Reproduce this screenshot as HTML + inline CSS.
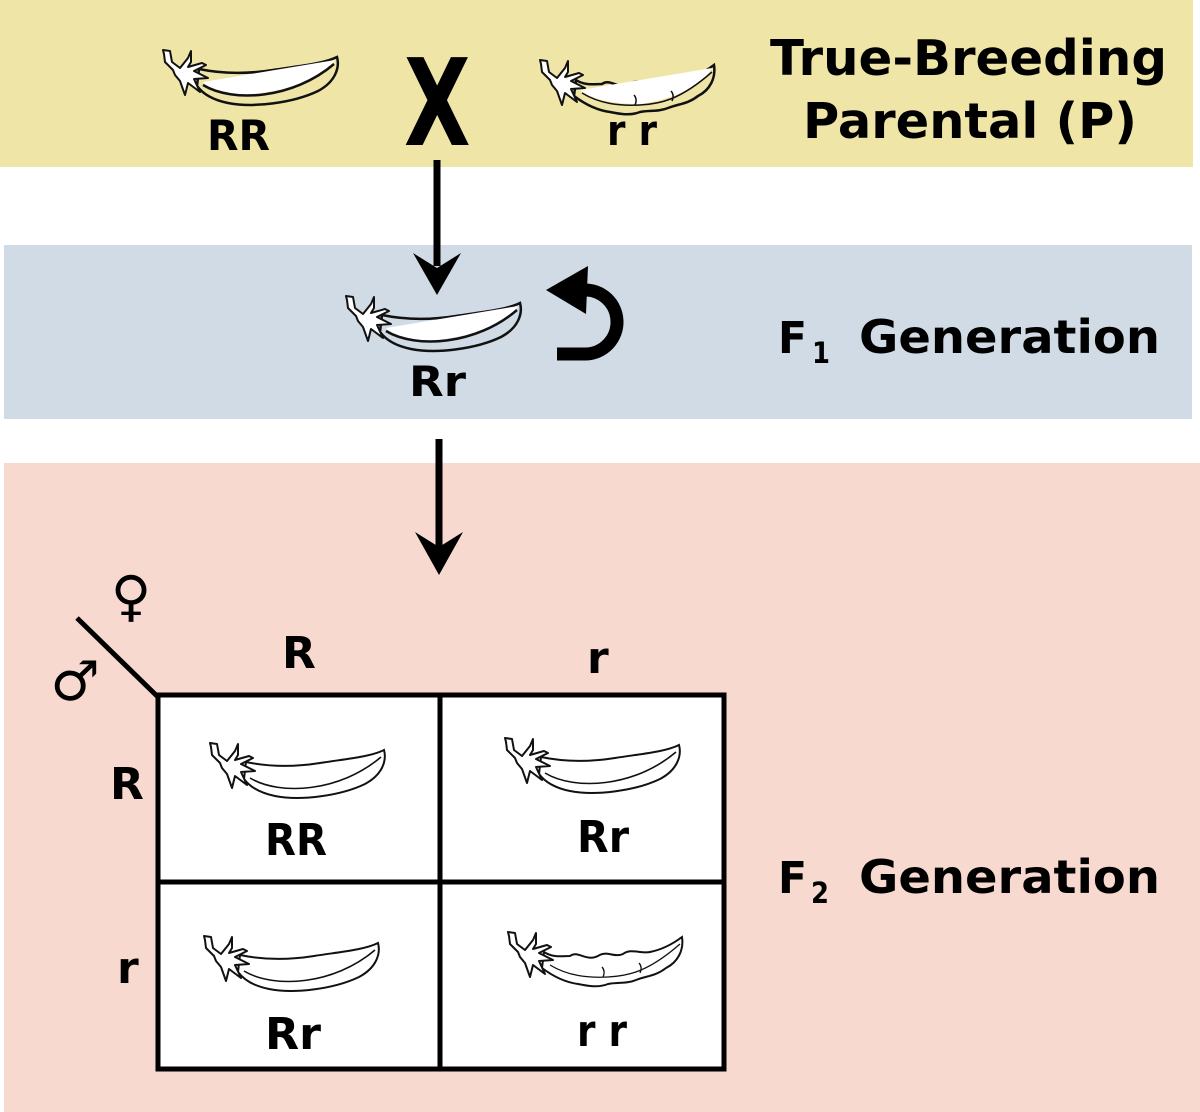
<!DOCTYPE html>
<html>
<head>
<meta charset="utf-8">
<style>
html,body{margin:0;padding:0;background:#fff;}
svg{display:block;}
text{font-family:"DejaVu Sans","Liberation Sans",sans-serif;font-weight:bold;fill:#000;}
.sym{font-weight:normal;}
</style>
</head>
<body>
<svg width="1200" height="1112" viewBox="0 0 1200 1112" xmlns="http://www.w3.org/2000/svg">
<defs>
  <g id="calyx">
    <polygon points="0,0 7,1 9,12 17,18 25,8 28,1 28,12 25,17 39,13 43,15 31,21 45,28 31,29 37,42 25,33 22,45 17,31 12,25 10,20 2,12 1,4" fill="#fff" stroke="#111" stroke-width="2" stroke-linejoin="round"/>
  </g>
  <path id="podBody" d="M36 19 C60 24,85 24,110 20 C135 16,160 14,174 7 C177 18,172 32,155 41 C130 53,90 58,65 53 C50 50,40 44,34 36 Z"/>
  <path id="podSeam" d="M40 35 C70 53,130 49,171 14" fill="none"/>
  <path id="podHi" d="M40 32 L172 10 C160 30,120 44,70 45 C55 44,45 38,40 32 Z"/>
  <path id="wrBody" d="M36 20 C45 26,55 24,62 24 C70 18,78 30,90 24 C98 18,106 26,115 22 C123 16,133 22,142 20 C152 18,162 14,174 5 C176 18,170 30,158 36 C148 44,138 44,128 48 C118 52,110 50,100 52 C90 56,80 54,70 52 C55 50,42 42,34 36 Z"/>
  <path id="wrSeam" d="M42 33 C60 44,80 46,100 45 C120 44,140 40,172 12 M95 45 C97 41,96 37,94 35 M132 41 C134 37,133 33,131 31" fill="none"/>
  <path id="wrHi" d="M40 30 L172 8 C160 28,130 40,100 44 C75 44,52 40,40 30 Z"/>
</defs>

<!-- bands -->
<rect x="0" y="0" width="1193" height="167" fill="#efe5a7"/>
<rect x="4" y="245" width="1188" height="174" fill="#d0dbe5"/>
<rect x="4" y="463" width="1196" height="649" fill="#f8d9cf"/>

<!-- P generation -->
<g transform="translate(163,50)">
  <use href="#podBody" fill="#efe5a7" stroke="#111" stroke-width="2.5"/>
  <use href="#podHi" fill="#fff"/>
  <use href="#podSeam" stroke="#111" stroke-width="2.5"/>
  <use href="#calyx"/>
</g>
<text x="207" y="150" font-size="42" textLength="63" lengthAdjust="spacingAndGlyphs">RR</text>
<text transform="translate(404,145) scale(0.95,1.34)" x="0" y="0" font-size="90" textLength="70" lengthAdjust="spacingAndGlyphs">X</text>
<g transform="translate(540,60)">
  <use href="#wrBody" fill="#efe5a7" stroke="#111" stroke-width="2.5"/>
  <use href="#wrHi" fill="#fff"/>
  <use href="#wrSeam" stroke="#111" stroke-width="1.5"/>
  <use href="#calyx"/>
</g>
<text x="607" y="145" font-size="42" textLength="50" lengthAdjust="spacingAndGlyphs">r r</text>
<text x="770" y="75" font-size="49" textLength="397" lengthAdjust="spacingAndGlyphs">True-Breeding</text>
<text x="803" y="138" font-size="49" textLength="334" lengthAdjust="spacingAndGlyphs">Parental (P)</text>

<!-- arrow 1 -->
<line x1="437" y1="160" x2="437" y2="266" stroke="#000" stroke-width="7"/>
<polygon points="437,295 461,253 437,268 413,253" fill="#000"/>

<!-- F1 -->
<g transform="translate(346,296)">
  <use href="#podBody" fill="#d0dbe5" stroke="#111" stroke-width="2.5"/>
  <use href="#podHi" fill="#fff"/>
  <use href="#podSeam" stroke="#111" stroke-width="2.5"/>
  <use href="#calyx"/>
</g>
<text x="409" y="396" font-size="42" textLength="57" lengthAdjust="spacingAndGlyphs">Rr</text>
<path d="M584 290 A32 32 0 0 1 586 354 L557 354" fill="none" stroke="#000" stroke-width="13"/>
<polygon points="546,290 588,266 586,314" fill="#000"/>
<text x="778" y="353" font-size="44" textLength="29" lengthAdjust="spacingAndGlyphs">F</text>
<text x="812" y="363" font-size="29" textLength="18" lengthAdjust="spacingAndGlyphs">1</text>
<text x="859" y="353" font-size="46" textLength="301" lengthAdjust="spacingAndGlyphs">Generation</text>

<!-- arrow 2 -->
<line x1="439" y1="439" x2="439" y2="548" stroke="#000" stroke-width="7"/>
<polygon points="439,575 463,532 439,547 415,532" fill="#000"/>

<!-- Punnett -->
<rect x="158" y="695" width="566" height="374" fill="#fff" stroke="#000" stroke-width="5"/>
<line x1="440" y1="695" x2="440" y2="1069" stroke="#000" stroke-width="5"/>
<line x1="158" y1="882" x2="724" y2="882" stroke="#000" stroke-width="5"/>
<line x1="77" y1="618" x2="158" y2="697" stroke="#000" stroke-width="5"/>

<text class="sym" x="131" y="615" font-size="55" text-anchor="middle">♀</text>
<text class="sym" x="75" y="700" font-size="55" text-anchor="middle">♂</text>

<text x="282" y="668" font-size="44">R</text>
<text x="587" y="673" font-size="44">r</text>
<text x="110" y="799" font-size="44">R</text>
<text x="117" y="983" font-size="44">r</text>

<g transform="translate(210,743)">
  <use href="#podBody" fill="#fff" stroke="#111" stroke-width="2"/>
  <use href="#podSeam" stroke="#111" stroke-width="1.6"/>
  <use href="#calyx"/>
</g>
<text x="265" y="855" font-size="44" textLength="62" lengthAdjust="spacingAndGlyphs">RR</text>

<g transform="translate(505,738)">
  <use href="#podBody" fill="#fff" stroke="#111" stroke-width="2"/>
  <use href="#podSeam" stroke="#111" stroke-width="1.6"/>
  <use href="#calyx"/>
</g>
<text x="577" y="852" font-size="44" textLength="52" lengthAdjust="spacingAndGlyphs">Rr</text>

<g transform="translate(204,936)">
  <use href="#podBody" fill="#fff" stroke="#111" stroke-width="2"/>
  <use href="#podSeam" stroke="#111" stroke-width="1.6"/>
  <use href="#calyx"/>
</g>
<text x="265" y="1049" font-size="44" textLength="56" lengthAdjust="spacingAndGlyphs">Rr</text>

<g transform="translate(508,932)">
  <use href="#wrBody" fill="#fff" stroke="#111" stroke-width="2"/>
  <use href="#wrSeam" stroke="#111" stroke-width="1.3"/>
  <use href="#calyx"/>
</g>
<text x="577" y="1046" font-size="44" textLength="50" lengthAdjust="spacingAndGlyphs">r r</text>

<text x="778" y="893" font-size="44" textLength="29" lengthAdjust="spacingAndGlyphs">F</text>
<text x="811" y="903" font-size="29" textLength="18" lengthAdjust="spacingAndGlyphs">2</text>
<text x="859" y="893" font-size="46" textLength="301" lengthAdjust="spacingAndGlyphs">Generation</text>
</svg>
</body>
</html>
